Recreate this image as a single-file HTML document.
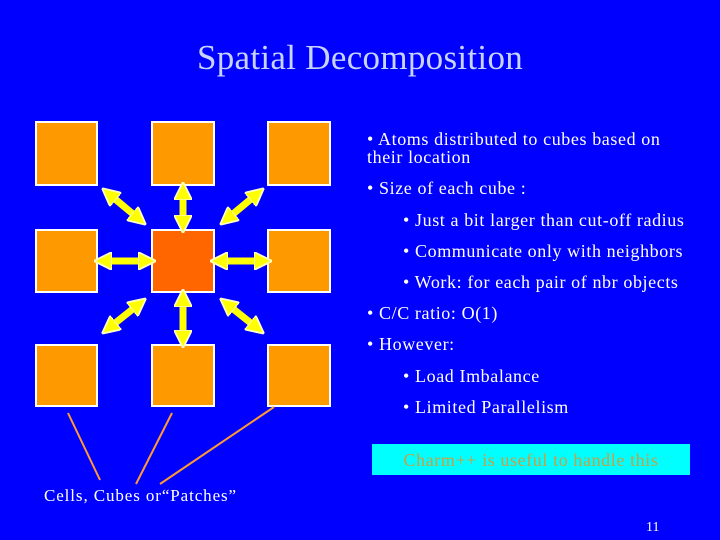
<!DOCTYPE html>
<html><head><style>
body{margin:0;width:720px;height:540px;background:#0000ff;position:relative;overflow:hidden;font-family:"Liberation Serif",serif;}
.t{position:absolute;color:#fff;font-size:18px;letter-spacing:0.6px;white-space:nowrap;line-height:1;}
</style></head><body>
<div class="t" style="left:0;width:720px;text-align:center;top:40px;font-size:35px;letter-spacing:0.3px;color:#c8d4ff;">Spatial Decomposition</div>
<svg width="720" height="540" style="position:absolute;left:0;top:0">
<defs>
<marker id="a" viewBox="0 0 10 10" refX="5" refY="5" markerWidth="2.6" markerHeight="2.6" orient="auto-start-reverse"><path d="M0,0L10,5L0,10z" fill="#ffff00" stroke="#ffffc0" stroke-width="1"/></marker>
</defs>
<g fill="#ff9900" stroke="#fff" stroke-width="2">
<rect x="36" y="122" width="61" height="63"/><rect x="152" y="122" width="62" height="63"/><rect x="268" y="122" width="62" height="63"/>
<rect x="36" y="230" width="61" height="62"/><rect x="152" y="230" width="62" height="62" fill="#ff6600"/><rect x="268" y="230" width="62" height="62"/>
<rect x="36" y="345" width="61" height="61"/><rect x="152" y="345" width="62" height="61"/><rect x="268" y="345" width="62" height="61"/>
</g>
<g stroke="#ffff00" stroke-width="7" marker-start="url(#a)" marker-end="url(#a)">
<line x1="109" y1="194" x2="139" y2="219"/><line x1="183" y1="191" x2="183" y2="224"/><line x1="257" y1="194" x2="227" y2="219"/>
<line x1="103" y1="261" x2="147" y2="261"/><line x1="219" y1="261" x2="263" y2="261"/>
<line x1="109" y1="328" x2="139" y2="304"/><line x1="183" y1="298" x2="183" y2="339"/><line x1="257" y1="328" x2="227" y2="304"/>
</g>
<g stroke="#ff9933" stroke-width="2">
<line x1="68" y1="413" x2="100" y2="480"/><line x1="172" y1="413" x2="136" y2="484"/><line x1="274" y1="407" x2="160" y2="484"/>
</g>
</svg>
<div class="t" style="left:367px;top:130px">• Atoms distributed to cubes based on</div>
<div class="t" style="left:367px;top:148px">their location</div>
<div class="t" style="left:367px;top:179px">• Size of each cube :</div>
<div class="t" style="left:403px;top:211px">• Just a bit larger than cut-off radius</div>
<div class="t" style="left:403px;top:242px">• Communicate only with neighbors</div>
<div class="t" style="left:403px;top:273px">• Work: for each pair of nbr objects</div>
<div class="t" style="left:367px;top:304px">• C/C ratio: O(1)</div>
<div class="t" style="left:367px;top:335px">• However:</div>
<div class="t" style="left:403px;top:367px">• Load Imbalance</div>
<div class="t" style="left:403px;top:398px">• Limited Parallelism</div>
<div style="position:absolute;left:372px;top:444px;width:318px;height:31px;background:#00ffff;"></div>
<div class="t" style="left:372px;width:318px;text-align:center;top:451px;color:#c8a040">Charm++ is useful to handle this</div>
<div class="t" style="left:44px;top:487px;font-size:17px;letter-spacing:0.9px">Cells, Cubes or“Patches”</div>
<div class="t" style="left:646px;top:521px;font-size:14px;letter-spacing:0">11</div>
</body></html>
